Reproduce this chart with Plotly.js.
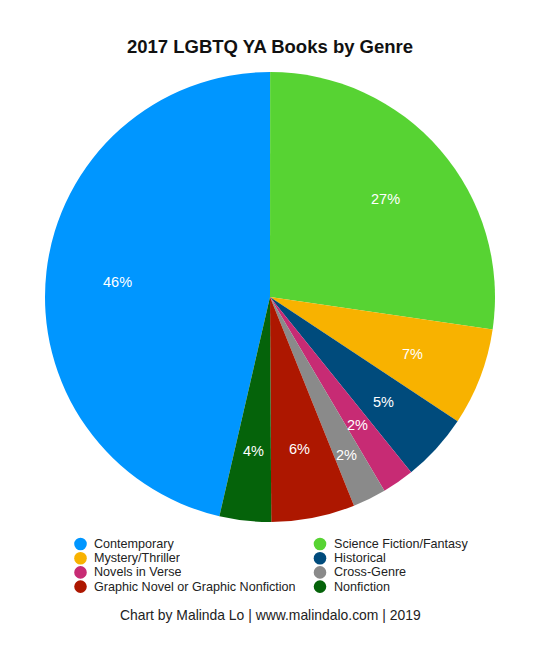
<!DOCTYPE html>
<html>
<head>
<meta charset="utf-8">
<script src="https://cdn.plot.ly/plotly-3.0.1.min.js"></script>
<style>html,body{margin:0;padding:0;background:#fff;}#chart{width:540px;height:656px;}</style>
</head>
<body>
<div id="chart"></div>
<script>
const categories = ["Contemporary", "Science Fiction/Fantasy", "Mystery/Thriller", "Historical",
  "Novels in Verse", "Cross-Genre", "Graphic Novel or Graphic Nonfiction", "Nonfiction"];
const values = [46.4, 27.3, 7.0, 4.9, 2.3, 2.4, 6.0, 3.7];
const colors = ["#0096FF", "#57D333", "#F8B200", "#004B7C", "#C72B74", "#8A8A8A", "#AD1700", "#05630A"];
const titleText = "2017 LGBTQ YA Books by Genre";
const footerText = "Chart by Malinda Lo | www.malindalo.com | 2019";

const W = 540, H = 656;
const font = "Liberation Sans, Arial, Helvetica, sans-serif";
const CX = 270, CY = 297, R = 225;     // pie geometry (pixels)
const ROT = 193;                        // start angle of first slice, clockwise from 12 o'clock
const LABEL_R = 0.68;

const annotations = [];

// percent labels placed at the middle angle of each slice, pushed outward if crowded
const total = values.reduce((a, b) => a + b, 0);
let cum = 0;
const placed = [];
values.forEach((v, i) => {
  const mid = ROT + (cum + v / 2) / total * 360;
  cum += v;
  const a = mid * Math.PI / 180;
  const txt = Math.round(v / total * 100) + "%";
  let r = LABEL_R * R, px, py;
  for (let k = 0; k < 20; k++) {
    px = CX + r * Math.sin(a); py = CY - r * Math.cos(a);
    const hit = placed.some(p => Math.hypot(p[0] - px, p[1] - py) < 30);
    if (!hit) break;
    r += 3;
  }
  placed.push([px, py]);
  annotations.push({xref: "paper", yref: "paper", x: px / W, y: 1 - (py + 2) / H, xanchor: "center", yanchor: "middle",
    text: txt, showarrow: false, font: {family: font, size: 14.5, color: "#fff"}});
});

// legend
const shapes = [];
const legDot = [80.5, 320], legText = [93, 333], legY0 = 544, legDY = 14.2, dotR = 6.3;
categories.forEach((name, i) => {
  const col = i % 2, row = Math.floor(i / 2);
  const y = legY0 + row * legDY;
  shapes.push({type: "circle", xref: "paper", yref: "paper",
    x0: (legDot[col] - dotR) / W, x1: (legDot[col] + dotR) / W,
    y0: 1 - (y + dotR) / H, y1: 1 - (y - dotR) / H,
    fillcolor: colors[i], line: {width: 0}});
  annotations.push({xref: "paper", yref: "paper", x: (legText[col] - 1) / W, y: 1 - y / H, xanchor: "left", yanchor: "middle",
    height: 14, text: name, showarrow: false, font: {family: font, size: 12.6, color: "#222"}});
});
annotations.push({xref: "paper", yref: "paper", x: 0.5, y: 1 - 615 / H, xanchor: "center", yanchor: "middle",
  text: footerText, showarrow: false, font: {family: font, size: 13.9, color: "#222"}});

const trace = {
  type: "pie",
  labels: categories,
  values: values,
  sort: false,
  direction: "clockwise",
  rotation: ROT,
  marker: {colors: colors, line: {width: 0}},
  textinfo: "none",
  hoverinfo: "label+percent",
  showlegend: false,
  domain: {x: [(CX - R) / W, (CX + R) / W], y: [1 - (CY + R) / H, 1 - (CY - R) / H]}
};

const layout = {
  width: W, height: H,
  margin: {l: 0, r: 0, t: 0, b: 0},
  paper_bgcolor: "#fff",
  title: {text: "<b>" + titleText + "</b>", x: 0.5, xanchor: "center", y: 1 - 47 / H, yanchor: "middle",
    font: {family: font, size: 18.5, color: "#111"}},
  showlegend: false,
  shapes: shapes,
  annotations: annotations
};

Plotly.newPlot("chart", [trace], layout, {displayModeBar: false, staticPlot: true});
</script>
</body>
</html>
